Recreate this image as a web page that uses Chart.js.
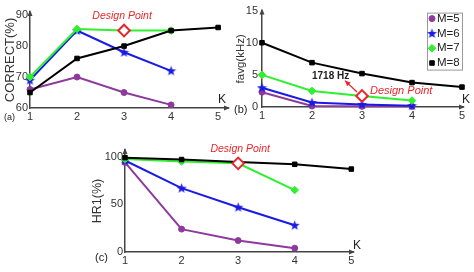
<!DOCTYPE html>
<html>
<head>
<meta charset="utf-8">
<script src="https://cdn.jsdelivr.net/npm/chart.js@4.4.0/dist/chart.umd.min.js"></script>
<style>
body { margin: 0; background: #fff; width: 474px; height: 272px; position: relative; overflow: hidden; }
canvas { position: absolute; }
#ca { left: 0; top: 0; }
#cb { left: 230px; top: 0; }
#cc { left: 80px; top: 135px; }
</style>
</head>
<body>
<canvas id="ca" width="240" height="130"></canvas>
<canvas id="cb" width="244" height="130"></canvas>
<canvas id="cc" width="300" height="137"></canvas>
<script>
// K values on x
const kVals = [1, 2, 3, 4, 5];
const seriesNames = ['M=5', 'M=6', 'M=7', 'M=8'];

// (a) CORRECT(%)
const correctM5 = [66, 70, 65, 61];
const correctM6 = [69, 85, 78, 72];
const correctM7 = [70, 85.5, 85, 85];
const correctM8 = [65, 76, 80, 85, 86];
const yTicksA = [60, 70, 80, 90];

// (b) favg(kHz)
const favgM5 = [2.3, 0.15, 0.1, 0.1];
const favgM6 = [3.0, 0.7, 0.4, 0.2];
const favgM7 = [5.0, 2.5, 1.718, 1.0];
const favgM8 = [10.0, 6.9, 5.2, 3.8, 3.1];
const yTicksB = [0, 5, 10, 15];

// (c) HR1(%)
const hrM5 = [94, 24, 12, 4];
const hrM6 = [96, 67, 47, 28];
const hrM7 = [97.5, 95, 93, 65];
const hrM8 = [99, 97, 94.5, 92, 87];
const yTicksC = [0, 50, 100];

// design point (K, value) for each panel
const designK = 3;
const designA = 85;
const designB = 1.718;
const designC = 93;

const colors = ['#8e3a9d', '#1a1ae6', '#2ef02e', '#000000'];
const FONT = 'Liberation Sans, Arial, sans-serif';
Chart.defaults.font.family = FONT;

// filled 5 point star marker
const star = document.createElement('canvas');
star.width = 11; star.height = 11;
(function () {
    const c = star.getContext('2d');
    c.fillStyle = colors[1];
    c.beginPath();
    for (let i = 0; i < 10; i++) {
        const r = i % 2 ? 2.2 : 5.3;
        const a = -Math.PI / 2 + i * Math.PI / 5;
        c.lineTo(5.5 + r * Math.cos(a), 5.8 + r * Math.sin(a));
    }
    c.closePath();
    c.fill();
})();

const styles = ['circle', star, 'rectRot', 'rect'];
const radii = [3, 5, 3.8, 3.2];

const toPts = arr => arr.map((v, i) => ({ x: kVals[i], y: v }));

function series(lists) {
    return lists.map((arr, i) => ({
        label: seriesNames[i],
        data: toPts(arr),
        borderColor: colors[i],
        backgroundColor: colors[i],
        pointBackgroundColor: colors[i],
        pointBorderColor: colors[i],
        pointStyle: styles[i],
        pointRadius: radii[i],
        pointBorderWidth: 1,
        borderWidth: 2,
        tension: 0,
        fill: false,
        clip: false,
        order: 3 - i
    }));
}

function designSet(v) {
    return {
        data: [{ x: designK, y: v }],
        showLine: false,
        pointStyle: 'rectRot',
        pointRadius: 5.8,
        pointBorderWidth: 2,
        pointBorderColor: '#e8262b',
        pointBackgroundColor: '#ffffff',
        clip: false,
        order: -1
    };
}

function arrows(ctx, a) {
    ctx.fillStyle = '#444';
    ctx.beginPath();
    ctx.moveTo(a.left - 2.5, a.top + 4);
    ctx.lineTo(a.left + 2.5, a.top + 4);
    ctx.lineTo(a.left, a.top - 2);
    ctx.fill();
    ctx.beginPath();
    ctx.moveTo(a.right - 4, a.bottom - 2.5);
    ctx.lineTo(a.right - 4, a.bottom + 2.5);
    ctx.lineTo(a.right + 2, a.bottom);
    ctx.fill();
}

function makeChart(id, o) {
    return new Chart(document.getElementById(id), {
        type: 'line',
        data: { datasets: [designSet(o.design)].concat(series(o.lists)) },
        options: {
            responsive: false,
            animation: false,
            devicePixelRatio: 1,
            layout: { padding: { top: o.top, right: o.right, left: 0, bottom: 0 } },
            plugins: { legend: { display: false }, tooltip: { enabled: false } },
            scales: {
                x: {
                    type: 'linear', min: 1, max: o.xMax,
                    afterFit: s => { s.height = o.xH; },
                    afterBuildTicks: s => { s.ticks = kVals.map(v => ({ value: v })); },
                    grid: { display: false, drawTicks: false },
                    border: { color: '#444', width: 1.5 },
                    ticks: { color: '#333', font: { size: 11 }, padding: 2, maxRotation: 0 }
                },
                y: {
                    min: o.yMin, max: o.yMax,
                    afterFit: s => { s.width = o.yW; },
                    afterBuildTicks: s => { s.ticks = o.yTicks.map(v => ({ value: v })); },
                    grid: { display: false, drawTicks: false },
                    border: { color: '#444', width: 1.5 },
                    ticks: { color: '#333', font: { size: 11 }, padding: o.tickPad },
                    title: { display: true, text: o.title, color: '#333', font: { size: o.titleSize }, padding: { top: o.titlePad, bottom: 0 } }
                }
            }
        },
        plugins: [{
            id: 'notes',
            afterDraw(chart) {
                const ctx = chart.ctx;
                ctx.save();
                arrows(ctx, chart.chartArea);
                o.notes(ctx, chart.scales.x, chart.scales.y, chart.chartArea);
                ctx.restore();
            }
        }]
    });
}

function redText(ctx, txt, x, y, size, align) {
    ctx.fillStyle = '#e8262b';
    ctx.font = 'italic ' + size + 'px ' + FONT;
    ctx.textAlign = align;
    ctx.textBaseline = 'middle';
    ctx.fillText(txt, x, y);
}

function plainText(ctx, txt, x, y, font) {
    ctx.fillStyle = '#222';
    ctx.font = font;
    ctx.textAlign = 'left';
    ctx.textBaseline = 'middle';
    ctx.fillText(txt, x, y);
}

makeChart('ca', {
    lists: [correctM5, correctM6, correctM7, correctM8],
    design: designA,
    top: 12, right: 12, xH: 22, yW: 30, xMax: 5.21,
    yMin: 60, yMax: 91, yTicks: yTicksA, tickPad: 2,
    title: 'CORRECT(%)', titleSize: 13, titlePad: 3,
    notes(ctx, x, y, a) {
        redText(ctx, 'Design Point', x.getPixelForValue(designK) - 2, y.getPixelForValue(designA) - 15, 10.5, 'center');
        plainText(ctx, 'K', a.right - 10, a.bottom - 8, '12px ' + FONT);
        plainText(ctx, '(a)', 4, 118, '9px ' + FONT);
    }
});

makeChart('cb', {
    lists: [favgM5, favgM6, favgM7, favgM8],
    design: designB,
    top: 10, right: 11, xH: 23, yW: 32, xMax: 5.02,
    yMin: 0, yMax: 15, yTicks: yTicksB, tickPad: 4,
    title: 'favg(kHz)', titleSize: 11.5, titlePad: 4,
    notes(ctx, x, y, a) {
        const dx = x.getPixelForValue(designK), dy = y.getPixelForValue(designB);
        const tx = x.getPixelForValue(2.66), ty = y.getPixelForValue(4.1);
        ctx.strokeStyle = '#e8262b';
        ctx.fillStyle = '#e8262b';
        ctx.lineWidth = 1.3;
        ctx.beginPath();
        ctx.moveTo(dx - 5, dy - 4);
        ctx.lineTo(tx, ty);
        ctx.stroke();
        const ang = Math.atan2(ty - (dy - 4), tx - (dx - 5));
        ctx.beginPath();
        ctx.moveTo(tx, ty);
        ctx.lineTo(tx - 6 * Math.cos(ang - 0.45), ty - 6 * Math.sin(ang - 0.45));
        ctx.lineTo(tx - 6 * Math.cos(ang + 0.45), ty - 6 * Math.sin(ang + 0.45));
        ctx.fill();
        plainText(ctx, '1718 Hz', tx - 33, ty - 4, 'bold 10px ' + FONT);
        redText(ctx, 'Design Point', dx + 8, dy - 5, 11, 'left');
        plainText(ctx, 'K', a.right - 1, a.bottom - 7, '12px ' + FONT);
        plainText(ctx, '(b)', 4, 110, '11px ' + FONT);

        // legend
        const lx = a.right - 36, ly = a.top + 2;
        ctx.fillStyle = '#fff';
        ctx.fillRect(lx, ly, 35, 57);
        ctx.strokeStyle = '#999';
        ctx.lineWidth = 1;
        ctx.strokeRect(lx + 0.5, ly + 0.5, 35, 57);
        seriesNames.forEach((nm, i) => {
            const cy = ly + 6 + i * 14.8;
            ctx.fillStyle = colors[i];
            ctx.strokeStyle = colors[i];
            Chart.helpers.drawPoint(ctx, { pointStyle: styles[i], radius: radii[i], rotation: 0, borderWidth: 1 }, lx + 5, cy);
            plainText(ctx, nm, lx + 10, cy, '11.5px ' + FONT);
        });
    }
});

makeChart('cc', {
    lists: [hrM5, hrM6, hrM7, hrM8],
    design: designC,
    top: 15, right: 27, xH: 20, yW: 45, xMax: 5.03,
    yMin: 0, yMax: 107, yTicks: yTicksC, tickPad: 2,
    title: 'HR1(%)', titleSize: 12.5, titlePad: 10,
    notes(ctx, x, y, a) {
        redText(ctx, 'Design Point', x.getPixelForValue(designK) + 2, y.getPixelForValue(designC) - 14, 10.5, 'center');
        plainText(ctx, 'K', a.right, a.bottom - 6, '12px ' + FONT);
        plainText(ctx, '(c)', 15, 123, '11px ' + FONT);
    }
});
</script>
</body>
</html>
